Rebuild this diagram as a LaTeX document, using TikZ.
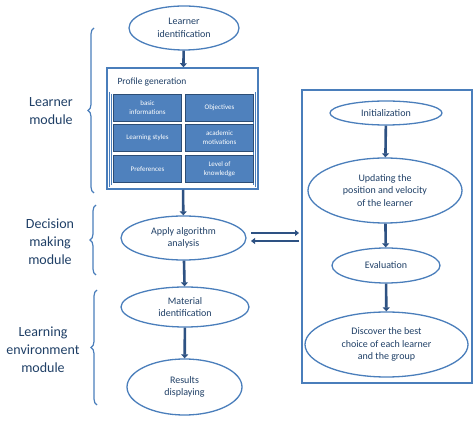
\documentclass[tikz,border=0pt]{standalone}
\usepackage{fontspec}
\setmainfont{Carlito}
\usetikzlibrary{shapes.geometric,arrows.meta,decorations.pathreplacing}
\definecolor{ebord}{HTML}{4A7EBB}
\definecolor{etext}{HTML}{1F3F66}
\definecolor{arr}{HTML}{2E5283}
\definecolor{cellfill}{HTML}{4F81BD}
\definecolor{celldraw}{HTML}{2C4D75}
\begin{document}
\begin{tikzpicture}[x=1pt,y=-1pt,
  ell/.style={ellipse,draw=ebord,line width=1.3pt,inner sep=0pt,align=center,
    text=etext,font=\fontsize{10}{12.5}\selectfont},
  cell/.style={rectangle,draw=celldraw,line width=0.8pt,fill=cellfill,text=white,
    minimum width=68pt,minimum height=27pt,inner sep=1pt,align=center,
    font=\fontsize{7}{9}\selectfont},
  flow/.style={draw=arr,line width=2.6pt,-{Triangle[width=7pt,length=4pt]}},
  thin arr/.style={draw=arr,line width=1.8pt,-{Triangle[width=6pt,length=4pt]}},
  modlabel/.style={align=center,text=etext,font=\fontsize{14}{18}\selectfont},
  brc/.style={draw=ebord,line width=1.2pt,decorate,decoration={brace,amplitude=6pt}},
  frame/.style={draw=ebord,line width=1.5pt}]
\useasboundingbox (0,0) rectangle (474,435);

% left column
\node[ell,minimum width=110pt,minimum height=44pt] (li) at (184,28) {Learner\\identification};
\node[rectangle,frame,minimum width=151pt,minimum height=121pt,inner sep=0pt] (pg) at (182.5,128.5) {};
\node[anchor=west,text=etext,font=\fontsize{9.5}{11}\selectfont] (pgt) at (114,82) {Profile generation};
\node[rectangle,draw=ebord,double=white,double distance=1.2pt,line width=0.8pt,
  minimum width=144pt,minimum height=93pt,inner sep=0pt] (pgi) at (182.5,139.5) {};
\node[cell] (c1) at (147.5,108) {basic\\informations};
\node[cell] (c2) at (219.5,108) {Objectives};
\node[cell] (c3) at (147.5,138) {Learning styles};
\node[cell] (c4) at (219.5,138) {academic\\motivations};
\node[cell] (c5) at (147.5,169) {Preferences};
\node[cell] (c6) at (219.5,169) {Level of\\knowledge};

\node[ell,minimum width=125pt,minimum height=44pt] (ap) at (183.5,238) {Apply algorithm\\analysis};
\node[ell,minimum width=128pt,minimum height=40pt] (mi) at (185,307) {Material\\identification};
\node[ell,minimum width=115pt,minimum height=56pt] (rd) at (184.5,387) {Results\\displaying};

\draw[flow] (li) -- (pg);
\draw[flow] (pg) -- (ap);
\draw[flow] (ap) -- (mi);
\draw[flow] (mi) -- (rd);

% right box
\node[rectangle,frame,minimum width=170pt,minimum height=293pt,inner sep=0pt] (bb) at (387,236.5) {};
\node[ell,minimum width=112pt,minimum height=24pt] (in) at (386,113) {Initialization};
\node[ell,minimum width=154pt,minimum height=65pt] (up) at (385,190.5) {Updating the\\position and velocity\\of the learner};
\node[ell,minimum width=108pt,minimum height=35pt] (ev) at (386,265.5) {Evaluation};
\node[ell,minimum width=163pt,minimum height=65pt] (dc) at (386.5,344.5) {Discover the best\\choice of each learner\\and the group};
\draw[flow] (in) -- (up);
\draw[flow] (up) -- (ev);
\draw[flow] (ev) -- (dc);

% double arrows
\coordinate (r1) at (251,233);
\coordinate (r2) at (299,233);
\coordinate (l1) at (299,241);
\coordinate (l2) at (251,241);
\draw[thin arr] (r1) -- (r2);
\draw[thin arr] (l1) -- (l2);

% module labels and braces
\node[modlabel] (lm) at (51,111) {Learner\\module};
\node[modlabel] (dm) at (50,242) {Decision\\making\\module};
\node[modlabel] (le) at (43,350) {Learning\\environment\\module};
\coordinate (b1s) at (94,193); \coordinate (b1e) at (94,28);
\coordinate (b2s) at (96,275); \coordinate (b2e) at (96,205);
\coordinate (b3s) at (97,405); \coordinate (b3e) at (97,290);
\draw[brc] (b1s) -- (b1e);
\draw[brc] (b2s) -- (b2e);
\draw[brc] (b3s) -- (b3e);
\end{tikzpicture}
\end{document}
